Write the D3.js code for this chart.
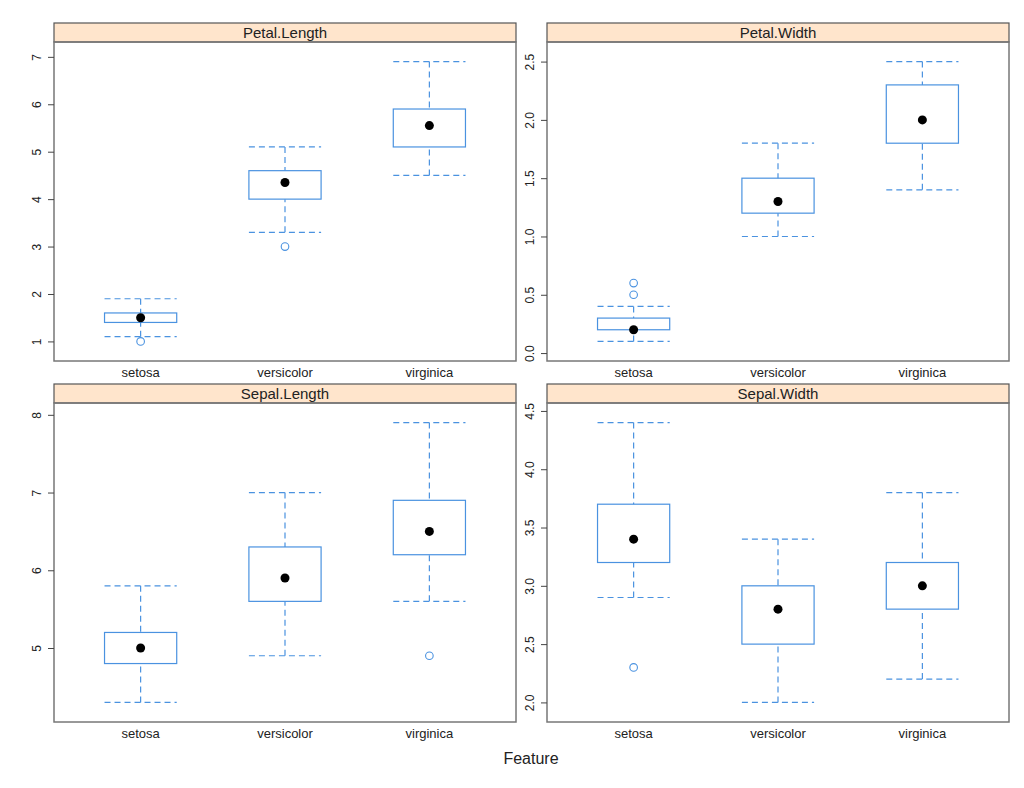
<!doctype html>
<html>
<head>
<meta charset="UTF-8">
<title>iris bwplot</title>
<script src="https://d3js.org/d3.v7.min.js"></script>
<style>
  body { margin: 0; background: #fff; }
  text { font-family: "Liberation Sans", Arial, sans-serif; fill: #222; }
</style>
</head>
<body>
<script>
    // values
    var features = ["Petal.Length", "Petal.Width", "Sepal.Length", "Sepal.Width"];
    var species = ["setosa", "versicolor", "virginica"];

    var lowWhisker  = [[1.1, 3.3, 4.5], [0.1, 1.0, 1.4], [4.3, 4.9, 5.6], [2.9, 2.0, 2.2]];
    var q1          = [[1.4, 4.0, 5.1], [0.2, 1.2, 1.8], [4.8, 5.6, 6.2], [3.2, 2.5, 2.8]];
    var median      = [[1.5, 4.35, 5.55], [0.2, 1.3, 2.0], [5.0, 5.9, 6.5], [3.4, 2.8, 3.0]];
    var q3          = [[1.6, 4.6, 5.9], [0.3, 1.5, 2.3], [5.2, 6.3, 6.9], [3.7, 3.0, 3.2]];
    var highWhisker = [[1.9, 5.1, 6.9], [0.4, 1.8, 2.5], [5.8, 7.0, 7.9], [4.4, 3.4, 3.8]];
    var outliers    = [[[1.0], [3.0], []], [[0.5, 0.6], [], []], [[], [], [4.9]], [[2.3], [], []]];

    var yTicks = [
        ["1", "2", "3", "4", "5", "6", "7"],
        ["0.0", "0.5", "1.0", "1.5", "2.0", "2.5"],
        ["5", "6", "7", "8"],
        ["2.0", "2.5", "3.0", "3.5", "4.0", "4.5"]
    ];

    var W = 1024, H = 788;
    var cols = [[54, 516], [547, 1009]];
    var rows = [[23, 42, 361], [384, 403, 722]];   // strip top, panel top, panel bottom
    var blue = "#4a92e0";

    var svg = d3.select("body").append("svg")
        .attr("width", W)
        .attr("height", H);

    features.forEach(function(f, i) {
        var c = cols[i % 2], r = rows[Math.floor(i / 2)];
        var g = svg.append("g");

        var x = d3.scalePoint().domain(species).range([c[0], c[1]]).padding(0.6);
        var bw = x.step() * 0.5;

        var all = d3.merge([lowWhisker[i], highWhisker[i], d3.merge(outliers[i])]);
        var ext = d3.extent(all), pad = (ext[1] - ext[0]) * 0.07;
        var y = d3.scaleLinear().domain([ext[0] - pad, ext[1] + pad]).range([r[2], r[1]]);

        // strip
        g.append("rect")
            .attr("x", c[0]).attr("y", r[0])
            .attr("width", c[1] - c[0]).attr("height", r[1] - r[0])
            .attr("fill", "#ffe5cc").attr("stroke", "#555").attr("stroke-width", 1.2);
        g.append("text")
            .attr("x", (c[0] + c[1]) / 2).attr("y", r[1] - 4.5)
            .attr("text-anchor", "middle").attr("font-size", 15)
            .text(f);

        // panel
        g.append("rect")
            .attr("x", c[0]).attr("y", r[1])
            .attr("width", c[1] - c[0]).attr("height", r[2] - r[1])
            .attr("fill", "none").attr("stroke", "#777").attr("stroke-width", 1.5);

        // y axis
        var ax = g.append("g")
            .attr("transform", "translate(" + c[0] + ",0)")
            .call(d3.axisLeft(y)
                .tickValues(yTicks[i].map(Number))
                .tickFormat(function(d, k) { return yTicks[i][k]; })
                .tickSize(6).tickSizeOuter(0));
        ax.select(".domain").remove();
        ax.selectAll(".tick line").attr("stroke", "#444");
        ax.selectAll(".tick text")
            .attr("x", null).attr("dy", null)
            .attr("transform", "translate(-13,0) rotate(-90)")
            .attr("text-anchor", "middle")
            .attr("font-size", 12)
            .attr("font-family", "Liberation Sans, Arial, sans-serif")
            .attr("fill", "#222");

        // x labels
        g.selectAll("text.xlab").data(species).enter().append("text")
            .attr("class", "xlab")
            .attr("x", function(d) { return x(d); })
            .attr("y", r[2] + 16)
            .attr("text-anchor", "middle").attr("font-size", 13)
            .text(function(d) { return d; });

        // boxes
        species.forEach(function(s, k) {
            var cx = x(s);
            var b = g.append("g");
            // whisker stems
            b.append("line")
                .attr("x1", cx).attr("x2", cx)
                .attr("y1", y(highWhisker[i][k])).attr("y2", y(q3[i][k]));
            b.append("line")
                .attr("x1", cx).attr("x2", cx)
                .attr("y1", y(lowWhisker[i][k])).attr("y2", y(q1[i][k]));
            // caps
            [lowWhisker[i][k], highWhisker[i][k]].forEach(function(v) {
                b.append("line")
                    .attr("x1", cx - bw / 2).attr("x2", cx + bw / 2)
                    .attr("y1", y(v)).attr("y2", y(v));
            });
            b.selectAll("line")
                .attr("stroke", blue).attr("stroke-width", 1.2)
                .attr("stroke-dasharray", "6,4");
            // box
            b.append("rect")
                .attr("x", cx - bw / 2).attr("y", y(q3[i][k]))
                .attr("width", bw).attr("height", y(q1[i][k]) - y(q3[i][k]))
                .attr("fill", "none").attr("stroke", blue).attr("stroke-width", 1.2);
            // median dot
            b.append("circle")
                .attr("cx", cx).attr("cy", y(median[i][k])).attr("r", 4.5)
                .attr("fill", "#000");
            // outliers
            b.selectAll("circle.out").data(outliers[i][k]).enter().append("circle")
                .attr("class", "out")
                .attr("cx", cx).attr("cy", function(d) { return y(d); }).attr("r", 3.8)
                .attr("fill", "none").attr("stroke", blue).attr("stroke-width", 1.1);
        });
    });

    svg.append("text")
        .attr("x", 531).attr("y", 764)
        .attr("text-anchor", "middle").attr("font-size", 16)
        .text("Feature");
</script>
</body>
</html>
